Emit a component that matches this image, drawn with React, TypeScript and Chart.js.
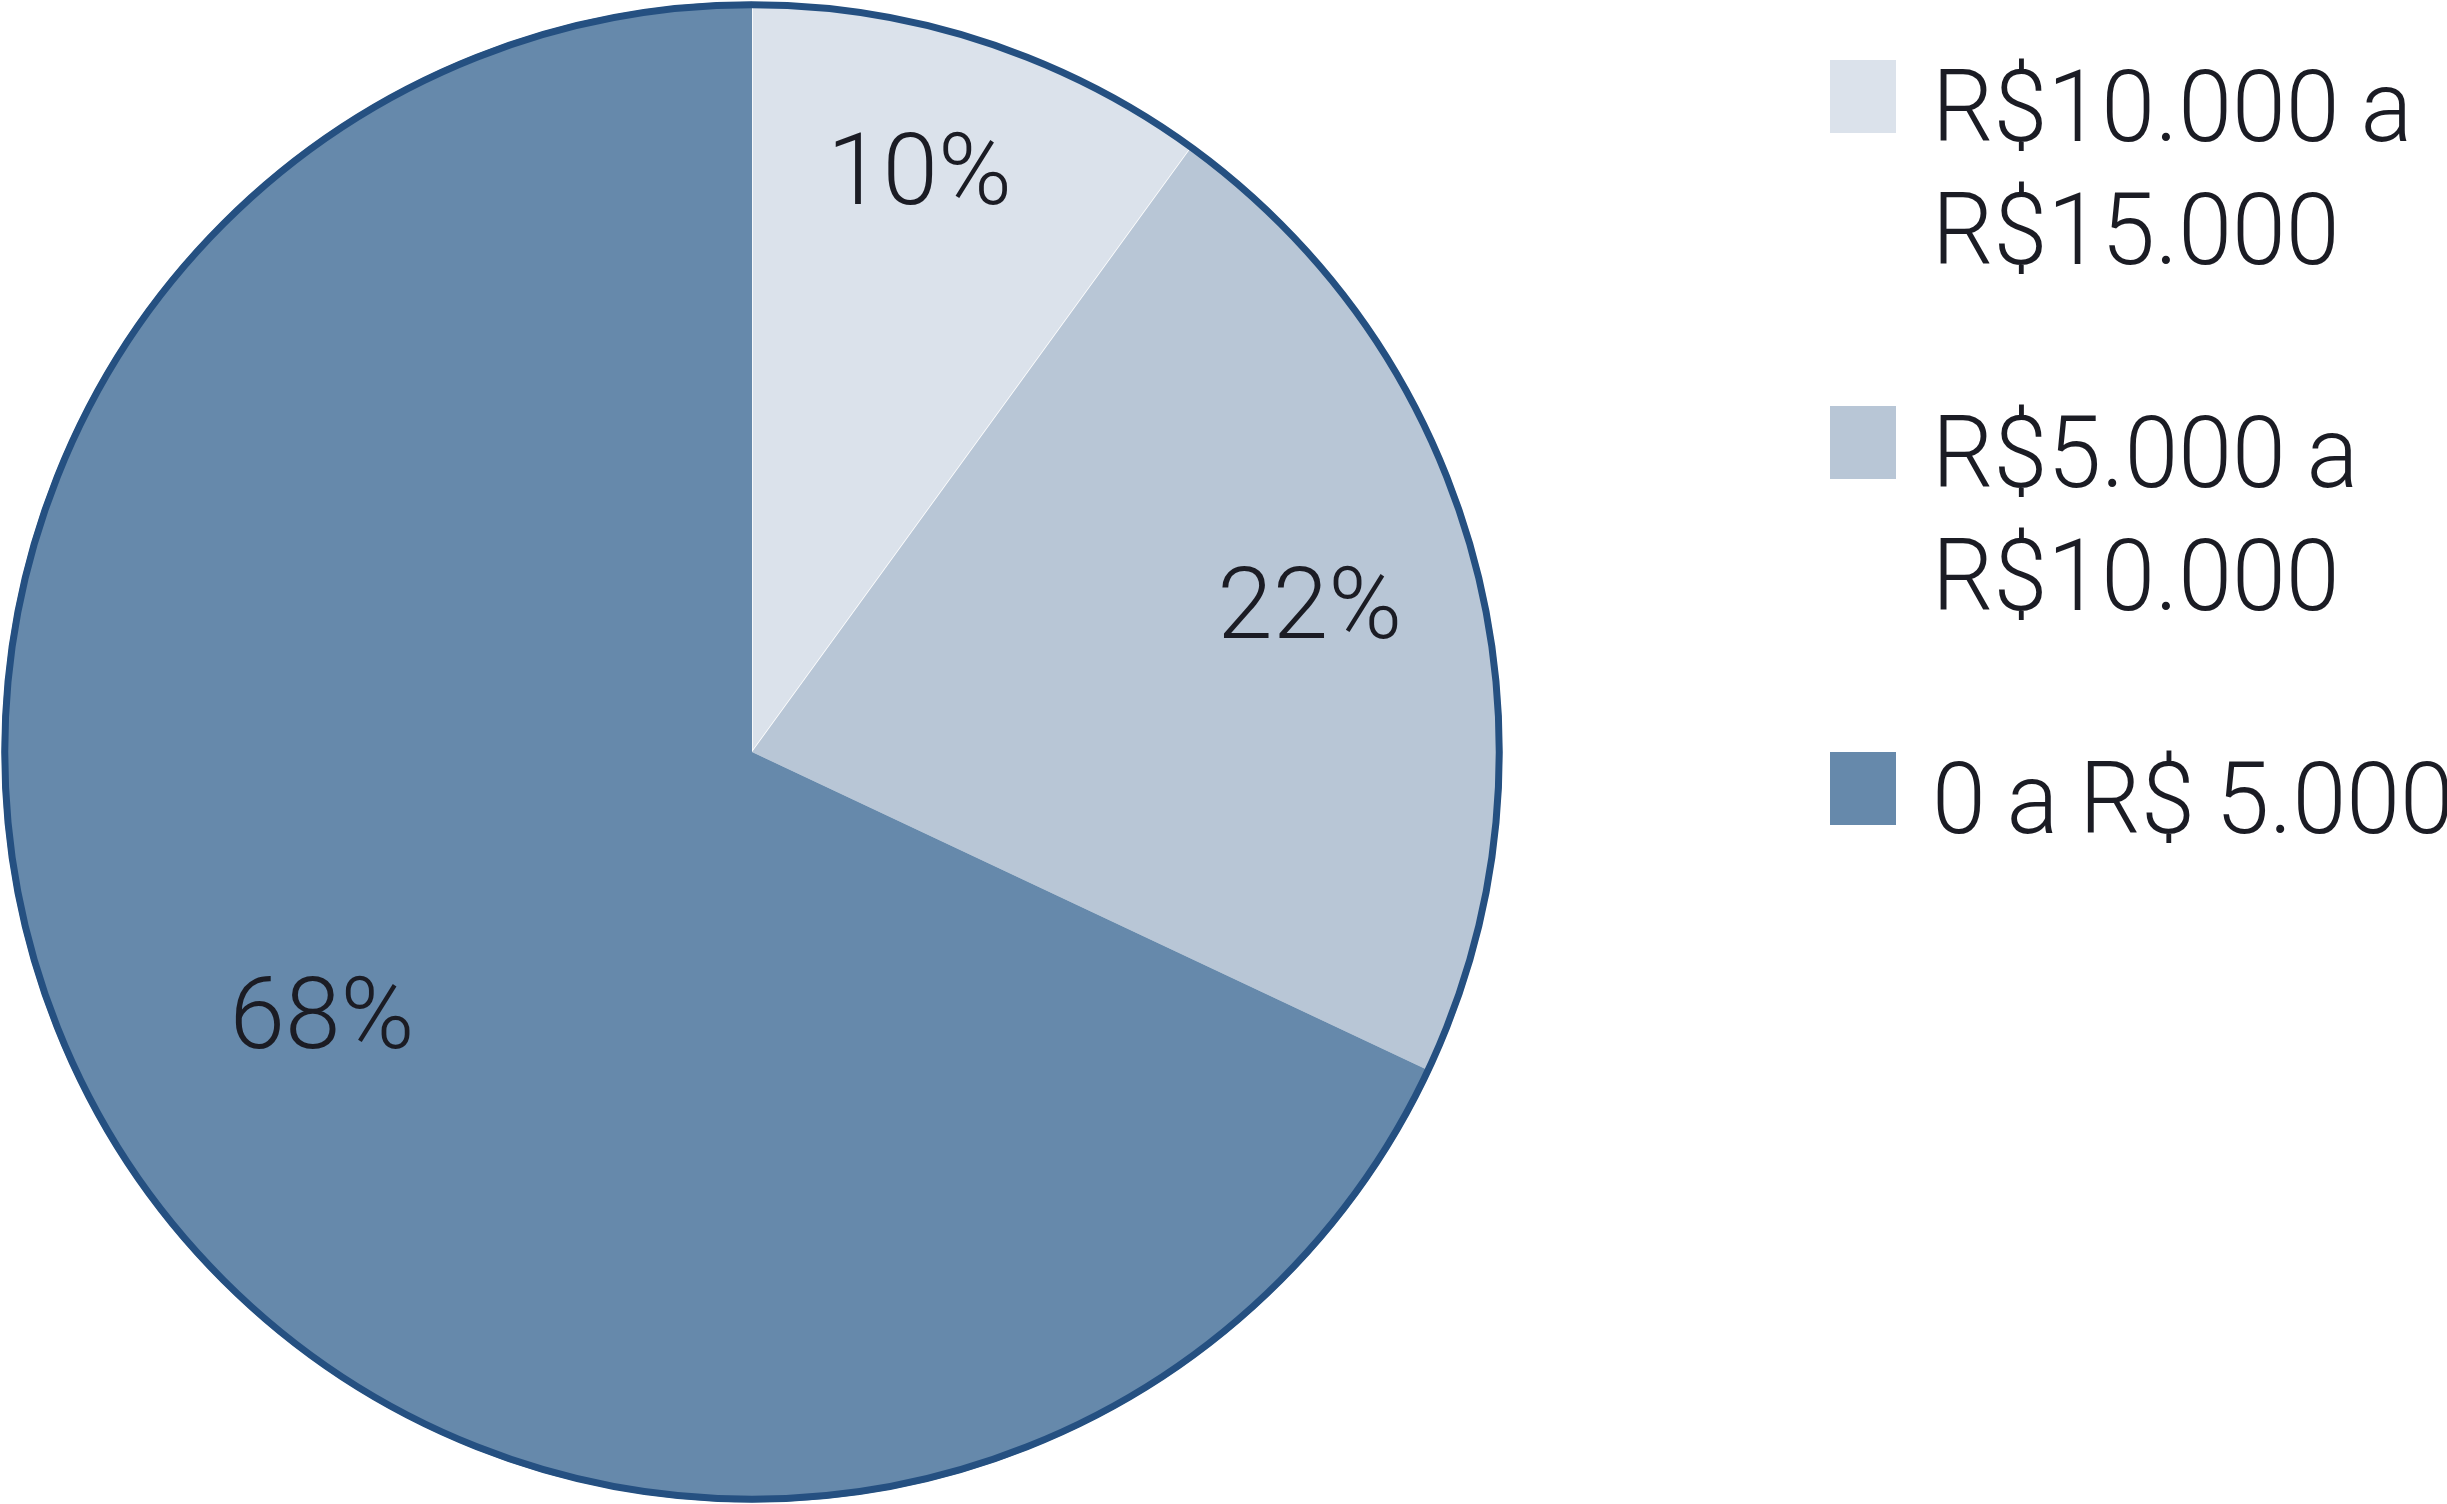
import React, { useEffect, useRef } from "react";
import { Chart, registerables } from "chart.js";

Chart.register(...registerables);

const categories: string[][] = [
  ["R$10.000 a", "R$15.000"],
  ["R$5.000 a", "R$10.000"],
  ["0 a R$ 5.000"],
];
const values: number[] = [10, 22, 68];
const valueLabels: string[] = ["10%", "22%", "68%"];
const sliceColors: string[] = ["#dbe2eb", "#b8c6d6", "#6689ab"];

const RING_COLOR = "#255081";
const TEXT_COLOR = "#1b1c24";
const FONT = "300 100px Roboto, 'DejaVu Sans', sans-serif";

const ringPlugin = {
  id: "ring",
  afterDatasetsDraw(chart: any) {
    const meta = chart.getDatasetMeta(0);
    const arc = meta.data[0];
    if (!arc) return;
    const { x, y, outerRadius } = arc.getProps(["x", "y", "outerRadius"], true);
    const ctx = chart.ctx;
    ctx.save();
    ctx.beginPath();
    ctx.arc(x, y, outerRadius - 3, 0, Math.PI * 2);
    ctx.lineWidth = 7;
    ctx.strokeStyle = RING_COLOR;
    ctx.stroke();
    ctx.restore();
  },
};

// label placement inside each slice: fraction of radius, angular nudge (deg)
const labelRadius = [0.81, 0.77, 0.67];
const labelAngleNudge = [-2, -0.7, 1.2];

const valueLabelPlugin = {
  id: "valueLabels",
  afterDatasetsDraw(chart: any) {
    const meta = chart.getDatasetMeta(0);
    const ctx = chart.ctx;
    ctx.save();
    ctx.font = FONT;
    ctx.fillStyle = TEXT_COLOR;
    ctx.textAlign = "center";
    ctx.textBaseline = "alphabetic";
    meta.data.forEach((arc: any, i: number) => {
      const { x, y, startAngle, endAngle, outerRadius } = arc.getProps(
        ["x", "y", "startAngle", "endAngle", "outerRadius"],
        true
      );
      const mid = (startAngle + endAngle) / 2 + (labelAngleNudge[i] * Math.PI) / 180;
      const r = outerRadius * labelRadius[i];
      const cx = x + Math.cos(mid) * r;
      const cy = y + Math.sin(mid) * r;
      ctx.fillText(valueLabels[i], cx, cy + 36);
    });
    ctx.restore();
  },
};

const legendPlugin = {
  id: "customLegend",
  afterDraw(chart: any) {
    const ctx = chart.ctx;
    const labels = chart.data.labels as string[][];
    const colors = chart.data.datasets[0].backgroundColor as string[];
    const boxX = 1830;
    const boxW = 66;
    const boxH = 73;
    const textX = 1932;
    const lineH = 123;
    const gap = 100;
    const sx = 0.97;
    let top = 60;
    ctx.save();
    ctx.font = FONT;
    try {
      (ctx as any).wordSpacing = "-3px";
    } catch (e) {}
    ctx.textAlign = "left";
    ctx.textBaseline = "alphabetic";
    labels.forEach((lines, i) => {
      ctx.fillStyle = colors[i];
      ctx.fillRect(boxX, top, boxW, boxH);
      ctx.fillStyle = TEXT_COLOR;
      lines.forEach((line, j) => {
        ctx.save();
        ctx.translate(textX, top + 81 + j * lineH);
        ctx.scale(sx, 1);
        ctx.fillText(line, 0, 0);
        ctx.restore();
      });
      top += lines.length * lineH + gap;
    });
    ctx.restore();
  },
};

export default function App() {
  const ref = useRef<HTMLCanvasElement | null>(null);
  useEffect(() => {
    document.body.style.margin = "0";
    document.body.style.overflow = "hidden";
    if (!ref.current) return;
    const chart = new Chart(ref.current, {
      type: "pie",
      data: {
        labels: categories as any,
        datasets: [
          {
            data: values,
            backgroundColor: sliceColors,
            borderColor: "#ffffff",
            borderWidth: [1.5, 0, 0],
            hoverOffset: 0,
          },
        ],
      },
      options: {
        responsive: false,
        animation: false,
        devicePixelRatio: 1,
        layout: { padding: { left: 1, top: 1, right: 944, bottom: 1 } },
        plugins: {
          legend: { display: false },
          tooltip: { enabled: false },
        },
      },
      plugins: [ringPlugin, valueLabelPlugin, legendPlugin],
    });
    return () => chart.destroy();
  }, []);
  return (
    <div style={{ width: 2447, height: 1504, background: "#ffffff" }}>
      <canvas ref={ref} width={2447} height={1504} style={{ display: "block" }} />
    </div>
  );
}
